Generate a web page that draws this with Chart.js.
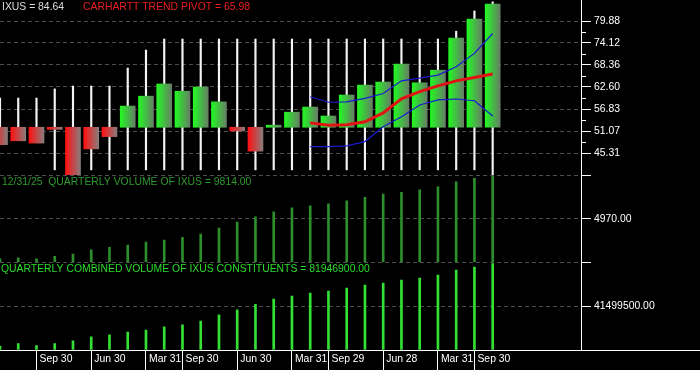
<!DOCTYPE html>
<html>
<head>
<meta charset="utf-8">
<script src="https://cdn.jsdelivr.net/npm/chart.js@4.4.1/dist/chart.umd.min.js"></script>
<style>
  html, body { margin: 0; padding: 0; background: #000; overflow: hidden; }
  #wrap { position: relative; width: 700px; height: 370px; background: #000; }
  canvas { display: block; }
</style>
</head>
<body>
<div id="wrap"><canvas id="c" width="700" height="370"></canvas></div>
<script>
// ---------- data ----------
const quarters = [
  'Mar 31 2019','Jun 30 2019','Sep 30 2019','Dec 31 2019',
  'Mar 31 2020','Jun 30 2020','Sep 30 2020','Dec 31 2020',
  'Mar 31 2021','Jun 30 2021','Sep 30 2021','Dec 31 2021',
  'Mar 31 2022','Jun 30 2022','Sep 30 2022','Dec 30 2022',
  'Mar 31 2023','Jun 30 2023','Sep 29 2023','Dec 29 2023',
  'Mar 28 2024','Jun 28 2024','Sep 30 2024','Dec 31 2024',
  'Mar 31 2025','Jun 30 2025','Sep 30 2025','Dec 31 2025'
];
const closes = [47.5, 48.5, 47.9, 51.5, 39.6, 46.4, 49.6, 57.6, 60.2, 63.4, 61.5, 62.6, 58.7, 51.1,
                45.8, 52.6, 56.0, 57.35, 55.0, 60.5, 63.1, 63.9, 68.6, 63.7, 67.0, 75.4, 80.4, 84.3];
const baseValue = 52.05;
const rangeHigh = [59.7, 59.7, 59.7, 62.1, 62.85, 62.85, 62.85, 67.56, 72.28, 75.16, 75.16, 75.16, 75.16, 75.16,
                   75.16, 75.16, 75.16, 75.16, 75.16, 75.16, 75.16, 75.16, 75.16, 75.16, 75.16, 77.2, 82.5, 84.9];
const rangeLow  = [47.6, 48.6, 48.0, 40.9, 40.9, 40.9, 40.9, 40.9, 40.9, 40.9, 40.9, 40.9, 40.9, 40.9,
                   40.9, 40.9, 40.9, 40.9, 40.9, 40.9, 40.9, 40.9, 40.9, 40.9, 40.9, 40.9, 40.9, 39.6];
const trendStart = 17;
const trendPivot = [53.2, 52.6, 52.7, 53.5, 55.8, 59.5, 61.4, 62.9, 64.2, 65.1, 65.98];
const upperBand  = [60.05, 58.6, 58.7, 59.6, 60.9, 64.2, 64.9, 65.7, 67.9, 71.4, 76.6];
const lowerBand  = [47.0, 47.0, 47.2, 48.3, 52.2, 54.8, 57.9, 59.2, 59.45, 59.0, 55.0];
const volume = [420, 540, 420, 690, 950, 1450, 1710, 1980, 2320, 2550, 2860, 3230, 3920, 4600,
                5180, 5750, 6200, 6430, 6660, 7000, 7390, 7770, 7960, 8260, 8600, 9170, 9560, 9814];
const combinedVolume = [3800000, 6000000, 4100000, 6000000, 8800000, 12600000, 14500000, 17000000,
                        18900000, 22000000, 23900000, 27400000, 33300000, 38000000, 43400000, 48400000,
                        51200000, 54100000, 55900000, 58800000, 61600000, 63500000, 66300000, 68200000,
                        71000000, 75700000, 78600000, 81946900];

const xTickIndex  = [2, 5, 8, 10, 13, 16, 18, 21, 24, 26];
const xTickLabels = ['Sep 30','Jun 30','Mar 31','Sep 30','Jun 30','Mar 31','Sep 29','Jun 28','Mar 31','Sep 30'];
const priceTickValues = [39.55, 45.31, 51.07, 56.83, 62.60, 68.36, 74.12, 79.88];
const priceTickLabels = ['', '45.31', '51.07', '56.83', '62.60', '68.36', '74.12', '79.88'];
const volTickValues = [0, 4970, 9940];
const volTickLabels = ['', '4970.00', ''];
const combTickValues = [0, 41499500, 82999000];
const combTickLabels = ['', '41499500.00', ''];

const titlePrice = 'IXUS = 84.64';
const titleTrend = 'CARHARTT TREND PIVOT = 65.98';
const titleVolume = '12/31/25  QUARTERLY VOLUME OF IXUS = 9814.00';
const titleCombined = 'QUARTERLY COMBINED VOLUME OF IXUS CONSTITUENTS = 81946900.00';

// ---------- styling ----------
const FONT = "'Liberation Sans', Arial, sans-serif";
const FS = 10.4;
const X_MIN = 0, X_MAX = 31.84;
const P_MIN = 39.55, P_MAX = 85.38;

function bodyFill(ctx) {
  const raw = ctx && ctx.raw;
  if (!raw || !Array.isArray(raw.y)) return '#22f522';
  const up = raw.y[1] >= raw.y[0];
  const solid = up ? '#22f522' : '#ff1212';
  const chart = ctx.chart;
  const xs = chart.scales && chart.scales.x;
  if (!xs) return solid;
  const px = xs.getPixelForValue(raw.x);
  if (!isFinite(px)) return solid;
  const g = chart.ctx.createLinearGradient(px - 7.5, 0, px + 7.5, 0);
  g.addColorStop(0, up ? '#22f822' : '#ff1010');
  g.addColorStop(1, up ? '#667e66' : '#8a7c7c');
  return g;
}

function yAxis(weight, min, max, vals, labels) {
  return {
    type: 'linear', position: 'right', stack: 'panes', stackWeight: weight,
    min: min, max: max,
    afterBuildTicks: s => { s.ticks = vals.map(v => ({ value: v })); },
    afterFit: s => { s.width = 119; s.paddingTop = 0; s.paddingBottom = 0; },
    grid: { drawOnChartArea: true, offset: false, color: '#4e4e4e', tickColor: '#ffffff', tickLength: 10, lineWidth: 1 },
    border: { display: true, color: '#ffffff', width: 1, dash: [4, 3] },
    ticks: {
      autoSkip: false, color: '#ffffff', padding: 3,
      font: { family: FONT, size: FS },
      callback: (v, i) => labels[i]
    }
  };
}

const overlay = {
  id: 'overlay',
  afterDraw(chart) {
    const c = chart.ctx;
    const area = chart.chartArea;
    const yP = chart.scales.yP, yV = chart.scales.yV, yC = chart.scales.yC;
    c.save();
    c.strokeStyle = '#ffffff';
    c.lineWidth = 1;
    for (let i = 1; i < priceTickValues.length - 1; i++) {
      const mid = (priceTickValues[i] + priceTickValues[i + 1]) / 2;
      const y = Math.round(yP.getPixelForValue(mid)) + 0.5;
      c.beginPath(); c.moveTo(area.right, y); c.lineTo(area.right + 5, y); c.stroke();
    }
    const yb = Math.round(area.bottom) + 0.5;
    c.beginPath(); c.moveTo(0, yb); c.lineTo(chart.width, yb); c.stroke();
    c.font = FS + 'px ' + FONT;
    c.textBaseline = 'middle';
    c.textAlign = 'left';
    c.fillStyle = '#dedede';
    c.fillText(titlePrice, 2, yP.top + 7);
    c.fillStyle = '#e82020';
    c.fillText(titleTrend, 83, yP.top + 7);
    c.fillStyle = '#2f9a2f';
    c.fillText(titleVolume, 2, yV.top + 7);
    c.fillStyle = '#2edc2e';
    c.fillText(titleCombined, 1, yC.top + 7);
    c.restore();
  }
};

const seg = (arr) => arr.map((v, i) => ({ x: trendStart + i, y: v }));

new Chart(document.getElementById('c'), {
  type: 'bar',
  data: {
    datasets: [
      { type: 'bar', label: 'Range', yAxisID: 'yP', order: 6, grouped: false,
        data: rangeHigh.map((h, i) => ({ x: i, y: [rangeLow[i], h] })),
        backgroundColor: '#f4f4f4', borderWidth: 0, barThickness: 1.5 },
      { type: 'bar', label: 'IXUS', yAxisID: 'yP', order: 5, grouped: false,
        data: closes.map((c, i) => ({ x: i, y: [baseValue, c] })),
        backgroundColor: bodyFill, borderWidth: 0, barThickness: 15 },
      { type: 'line', label: 'Upper', yAxisID: 'yP', order: 3,
        data: seg(upperBand), borderColor: '#1a1ad0', borderWidth: 1.2, pointRadius: 0, tension: 0, fill: false },
      { type: 'line', label: 'Lower', yAxisID: 'yP', order: 3,
        data: seg(lowerBand), borderColor: '#1a1ad0', borderWidth: 1.2, pointRadius: 0, tension: 0, fill: false },
      { type: 'line', label: 'Carhartt Trend Pivot', yAxisID: 'yP', order: 1,
        data: seg(trendPivot), borderColor: '#e01414', borderWidth: 3, pointRadius: 0, tension: 0, fill: false },
      { type: 'bar', label: 'Volume', yAxisID: 'yV', order: 4, grouped: false,
        data: volume.map((v, i) => ({ x: i, y: v })),
        backgroundColor: '#2c8e2c', borderWidth: 0, barThickness: 2 },
      { type: 'bar', label: 'Combined Volume', yAxisID: 'yC', order: 4, grouped: false,
        data: combinedVolume.map((v, i) => ({ x: i, y: v })),
        backgroundColor: '#34e034', borderWidth: 0, barThickness: 2 }
    ]
  },
  options: {
    responsive: false, animation: false, devicePixelRatio: 1,
    layout: { padding: 0 },
    plugins: { legend: { display: false }, tooltip: { enabled: false }, title: { display: false } },
    scales: {
      x: {
        type: 'linear', position: 'bottom', min: X_MIN, max: X_MAX, offset: false,
        afterBuildTicks: s => { s.ticks = xTickIndex.map(v => ({ value: v })); },
        afterFit: s => { s.height = 20; s.paddingLeft = 0; s.paddingRight = 0; },
        grid: { drawOnChartArea: false, offset: false, drawTicks: true, tickLength: 20, color: '#ffffff', tickColor: '#ffffff', lineWidth: 1 },
        border: { display: true, color: '#ffffff', width: 1 },
        ticks: {
          autoSkip: false, maxRotation: 0, minRotation: 0, align: 'start', labelOffset: 3, padding: -17,
          color: '#ffffff', font: { family: FONT, size: FS },
          callback: (v, i) => xTickLabels[i]
        }
      },
      yP: yAxis(2, P_MIN, P_MAX, priceTickValues, priceTickLabels),
      yV: yAxis(1, 0, 9940, volTickValues, volTickLabels),
      yC: yAxis(1, 0, 82999000, combTickValues, combTickLabels)
    }
  },
  plugins: [overlay]
});
</script>
</body>
</html>
